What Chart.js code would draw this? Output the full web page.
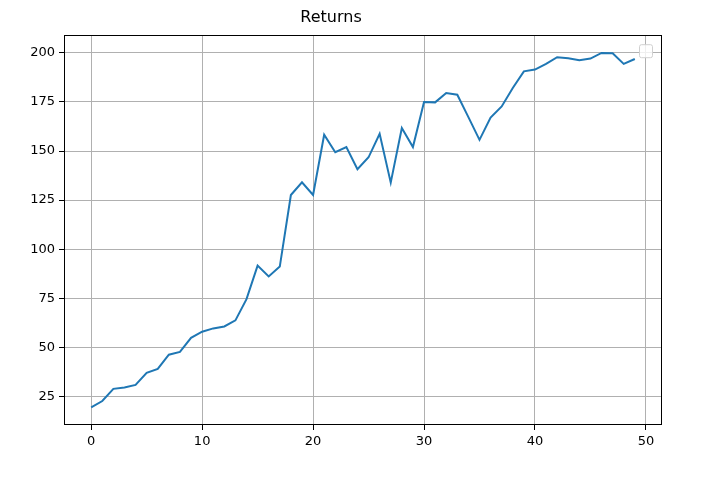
<!DOCTYPE html>
<html lang="en">
<head>
    <meta charset="UTF-8">
    <title>Returns</title>
    <script src="https://cdn.jsdelivr.net/npm/chart.js"></script>
    <style>
        html, body { margin: 0; padding: 0; background: #fff; }
        #wrap { width: 724px; height: 478px; }
    </style>
</head>
<body>
    <div id="wrap"><canvas id="returnsChart" width="724" height="478"></canvas></div>

    <script>
        // episode index and returns
        const episodes = Array.from({ length: 50 }, (_, i) => i);
        const returns = [
            19.4, 22.6, 28.8, 29.5, 30.8, 37.0, 39.0, 46.2, 47.6, 54.8,
            57.9, 59.6, 60.6, 63.7, 74.5, 91.6, 86.1, 91.1, 127.6, 134.1,
            127.6, 158.3, 149.4, 152.0, 140.7, 146.8, 158.8, 133.9, 161.7, 152.0,
            175.0, 174.8, 179.6, 178.7, 167.3, 155.7, 167.1, 172.7, 182.1, 190.6,
            191.5, 194.4, 197.8, 197.3, 196.3, 197.1, 200.0, 199.8, 194.4, 196.9
        ];
        const xTicks = [0, 10, 20, 30, 40, 50];
        const yTicks = [25, 50, 75, 100, 125, 150, 175, 200];

        // matplotlib-like 5% margins
        const xPad = (episodes[episodes.length - 1] - episodes[0]) * 0.05;
        const yLo = Math.min(...returns), yHi = Math.max(...returns);
        const yPad = (yHi - yLo) * 0.05;

        const frame = {
            id: 'frame',
            afterDraw(chart) {
                const { ctx, chartArea: a } = chart;
                ctx.save();
                ctx.strokeStyle = '#000';
                ctx.lineWidth = 1;
                ctx.strokeRect(Math.round(a.left) + 0.5, Math.round(a.top) + 0.5,
                    Math.round(a.right - a.left) - 1, Math.round(a.bottom - a.top) - 1);
                // empty legend box (no labelled artists)
                ctx.fillStyle = 'rgba(255,255,255,0.8)';
                ctx.strokeStyle = '#d0d0d0';
                ctx.beginPath();
                ctx.roundRect(a.right - 22.5, a.top + 9.5, 13, 13, 2);
                ctx.fill();
                ctx.stroke();
                ctx.restore();
            }
        };

        const tickFont = { family: 'DejaVu Sans', size: 13 };

        new Chart(document.getElementById('returnsChart'), {
            type: 'line',
            data: {
                datasets: [{
                    data: episodes.map((x, i) => ({ x: x, y: returns[i] })),
                    borderColor: '#1f77b4',
                    borderWidth: 2,
                    pointRadius: 0,
                    tension: 0,
                    fill: false
                }]
            },
            options: {
                responsive: false,
                animation: false,
                devicePixelRatio: 1,
                layout: { padding: { left: 0, right: 62, top: 0, bottom: 0 } },
                plugins: {
                    legend: { display: false },
                    tooltip: { enabled: false },
                    title: {
                        display: true,
                        text: 'Returns',
                        color: '#000',
                        font: { family: 'DejaVu Sans', size: 16, weight: 'normal' },
                        padding: { top: 8, bottom: 8 }
                    }
                },
                scales: {
                    x: {
                        type: 'linear',
                        min: episodes[0] - xPad,
                        max: episodes[episodes.length - 1] + xPad,
                        afterBuildTicks: s => { s.ticks = xTicks.map(v => ({ value: v })); },
                        afterFit: s => { s.height = 53; },
                        grid: { color: '#b0b0b0', lineWidth: 1, tickLength: 5, tickColor: '#000' },
                        border: { display: false },
                        ticks: { color: '#000', font: tickFont, padding: 4, maxRotation: 0 }
                    },
                    y: {
                        min: yLo - yPad,
                        max: yHi + yPad,
                        afterBuildTicks: s => { s.ticks = yTicks.map(v => ({ value: v })); },
                        afterFit: s => { s.width = 64; },
                        grid: { color: '#b0b0b0', lineWidth: 1, tickLength: 5, tickColor: '#000' },
                        border: { display: false },
                        ticks: { color: '#000', font: tickFont, padding: 4 }
                    }
                }
            },
            plugins: [frame]
        });
    </script>
</body>
</html>
